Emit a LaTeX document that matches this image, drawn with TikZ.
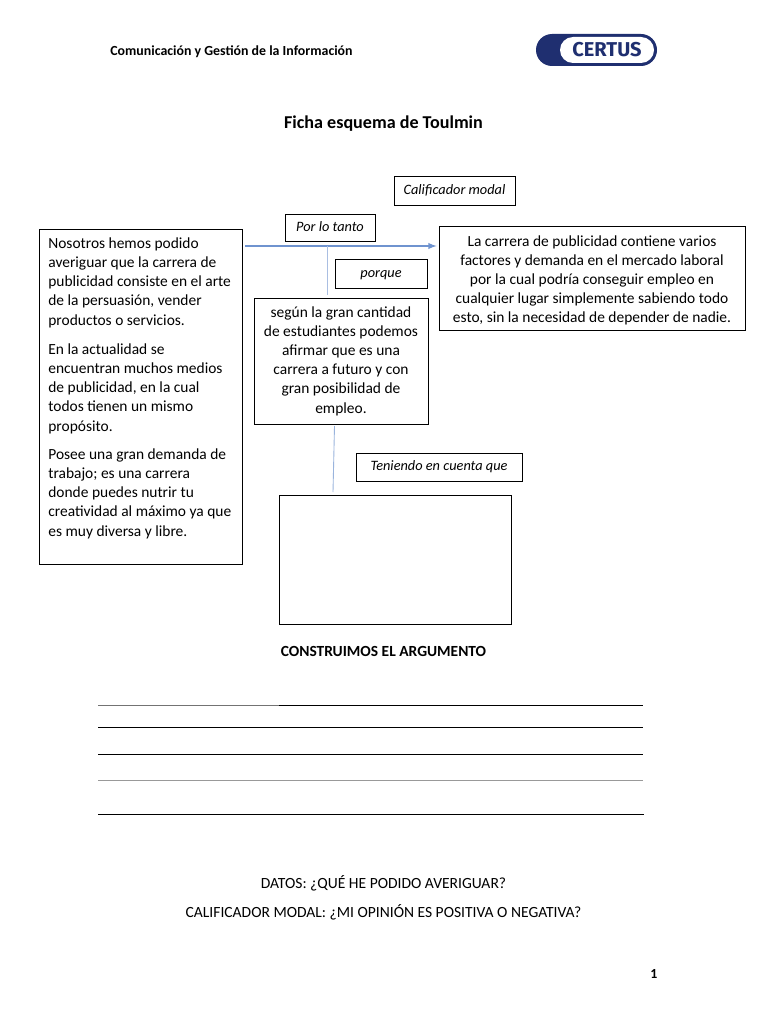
\documentclass[tikz,border=0pt]{standalone}
\usepackage{fontspec}
\setmainfont{Carlito}
\newfontfamily\logofont{Fira Sans}
\usetikzlibrary{calc}
\definecolor{linkblue}{HTML}{6F93CF}
\definecolor{logonavy}{HTML}{1F2F70}
\tikzset{
	labelbox/.style={draw=black, line width=0.5pt, inner sep=0pt, font=\fontsize{8.15}{10}\selectfont\itshape, text height=6pt, text depth=2pt},
	textbox/.style={draw=black, line width=0.5pt, inner sep=0pt, font=\fontsize{8.8}{10.95}\selectfont, align=center},
	sideline/.style={font=\fontsize{8.8}{10.95}\selectfont, align=left, anchor=north west, inner sep=0pt},
	ruleline/.style={line width=0.55pt, color=black},
	caption/.style={font=\fontsize{8.85}{10}\selectfont, inner sep=0pt},
}
\begin{document}
\begin{tikzpicture}[x=0.02cm, y=-0.02cm]
		%%%%% PAGE %%%%%
		\useasboundingbox[fill=white] (0, 0) rectangle (768, 1024);
		
		\node[caption, anchor=west, font=\fontsize{7.9}{10}\selectfont\bfseries] (header) at (110, 52) {Comunicación y Gestión de la Información};
		\node[caption, font=\fontsize{10.3}{10}\selectfont\bfseries] (title) at (383.5, 124) {Ficha esquema de Toulmin};
		
		%%%%% LOGO %%%%%
		\fill[logonavy, rounded corners=16*0.02cm] (536, 34) rectangle (657, 66);
		\fill[white, rounded corners=13*0.02cm] (560, 37) rectangle (654, 63);
		\node[inner sep=0pt, text=logonavy, font=\logofont\fontsize{11.4}{10}\selectfont\bfseries] (logo) at (607, 50) {CERTUS};
		
		%%%%% BOXES %%%%%
		\node[labelbox, minimum width=121*0.02cm, minimum height=29*0.02cm] (calificador) at (454.5, 191) {Calificador modal};
		\node[labelbox, minimum width=90*0.02cm, minimum height=27*0.02cm] (portanto) at (330, 227.5) {Por lo tanto};
		\node[labelbox, minimum width=92*0.02cm, minimum height=29*0.02cm] (porque) at (381, 273.5) {porque};
		\node[labelbox, minimum width=166*0.02cm, minimum height=28*0.02cm] (teniendo) at (439, 467) {Teniendo en cuenta que};
		
		\draw[line width=0.5pt] (39, 229) rectangle (242, 564);
		\node[sideline] (datos) at (48, 237) {Nosotros hemos podido\\averiguar que la carrera de\\publicidad consiste en el arte\\de la persuasión, vender\\productos o servicios.};
		\node[sideline] (actualidad) at (48, 343) {En la actualidad se\\encuentran muchos medios\\de publicidad, en la cual\\todos tienen un mismo\\propósito.};
		\node[sideline] (demanda) at (48, 448) {Posee una gran demanda de\\trabajo; es una carrera\\donde puedes nutrir tu\\creatividad al máximo ya que\\es muy diversa y libre.};
		
		\node[textbox, minimum width=306*0.02cm, minimum height=104*0.02cm] (conclusion) at (592, 278) {\rule{0pt}{8.8pt}La carrera de publicidad contiene varios\\factores y demanda en el mercado laboral\\por la cual podría conseguir empleo en\\cualquier lugar simplemente sabiendo todo\\esto, sin la necesidad de depender de nadie.};
		\node[textbox, minimum width=174*0.02cm, minimum height=126*0.02cm] (garantia) at (341, 361) {según la gran cantidad\\de estudiantes podemos\\afirmar que es una\\carrera a futuro y con\\gran posibilidad de\\empleo.};
		\node[draw=black, line width=0.5pt, inner sep=0pt, minimum width=232*0.02cm, minimum height=129*0.02cm] (respaldo) at (395, 559.5) {};
		
		%%%%% LINKS %%%%%
		\coordinate (start) at (245, 246);
		\coordinate (stop) at (conclusion.west |- start);
		\coordinate (drop) at (327, 246);
		\coordinate (dropend) at (327, 295);
		\coordinate (lowtop) at (334.5, 426);
		\coordinate (lowend) at (333, 492);
		\draw[linkblue, line width=0.6pt, -{latex}] (start) -- ($(stop)+(-2, 0)$);
		\draw[linkblue!60, line width=0.5pt] (drop) -- (dropend);
		\draw[linkblue!70, line width=0.5pt] (lowtop) -- (lowend);
		
		%%%%% ARGUMENTO %%%%%
		\node[caption, font=\fontsize{8.8}{10}\selectfont\bfseries] (argumento) at (383.5, 651) {CONSTRUIMOS EL ARGUMENTO};
		
		\draw[ruleline, color=black!55] (98, 705) -- (279, 705);
		\draw[ruleline] (279, 705) -- (643, 705);
		\draw[ruleline] (98, 727.5) -- (643, 727.5);
		\draw[ruleline] (98, 754) -- (643, 754);
		\draw[ruleline, color=black!40] (98, 780.5) -- (643, 780.5);
		\draw[ruleline] (98, 814) -- (644, 814);
		
		\node[caption] (pregunta) at (383.5, 883) {DATOS: ¿QUÉ HE PODIDO AVERIGUAR?};
		\node[caption] (opinion) at (383.5, 912) {CALIFICADOR MODAL: ¿MI OPINIÓN ES POSITIVA O NEGATIVA?};
		\node[caption, font=\fontsize{7.9}{10}\selectfont\bfseries] (pagina) at (654, 974) {1};
		
		%%%%% END %%%%%
	\end{tikzpicture}
\end{document}
